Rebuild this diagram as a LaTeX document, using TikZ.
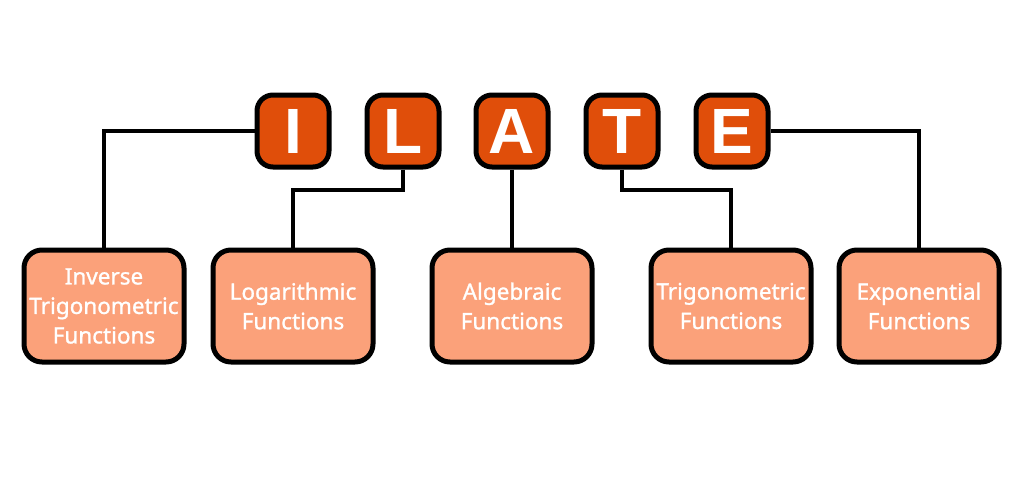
\documentclass[tikz,border=0pt]{standalone}
\usepackage{fontspec}
\setmainfont{Noto Sans}
\newfontfamily\letterfont{Liberation Sans}
\newfontfamily\boxfont{Noto Sans}[FakeBold=1.2]
\definecolor{letterfill}{HTML}{E04E0A}
\definecolor{boxfill}{HTML}{FBA17A}
\begin{document}
\begin{tikzpicture}[x=1pt,y=-1pt,
  letter/.style={draw=black,line width=5pt,fill=letterfill,rounded corners=16pt,
    minimum width=72pt,minimum height=72pt,inner sep=0pt,text=white,
    font=\letterfont\fontsize{64}{64}\selectfont\bfseries},
  fbox/.style={draw=black,line width=5pt,fill=boxfill,rounded corners=18pt,
    minimum width=160pt,minimum height=112pt,inner sep=0pt,text=white,align=center,
    font=\boxfont\fontsize{22.5}{29.5}\selectfont},
  link/.style={draw=black,line width=4pt}]
\useasboundingbox (0,0) rectangle (1024,490);
\fill[white] (0,0) rectangle (1024,490);
% bottom boxes
\node[fbox] (b1) at (104,306) {Inverse\\Trigonometric\\Functions};
\node[fbox] (b2) at (293,306) {Logarithmic\\Functions};
\node[fbox] (b3) at (512,306) {Algebraic\\Functions};
\node[fbox] (b4) at (731,306) {Trigonometric\\Functions};
\node[fbox] (b5) at (919,306) {Exponential\\Functions};
% letter boxes
\node[letter] (I) at (293,131) {I};
\node[letter] (L) at (403,131) {L};
\node[letter] (A) at (512,131) {A};
\node[letter] (T) at (622,131) {T};
\node[letter] (E) at (732,131) {E};
% junctions
\coordinate (jl) at (403,190);
\coordinate (jt) at (622,190);
% connectors
\draw[link] (I.west) -| (b1.north);
\draw[link] (L.south) -- (jl) -| (b2.north);
\draw[link] (A.south) -- (b3.north);
\draw[link] (T.south) -- (jt) -| (b4.north);
\draw[link] (E.east) -| (b5.north);
\end{tikzpicture}
\end{document}
